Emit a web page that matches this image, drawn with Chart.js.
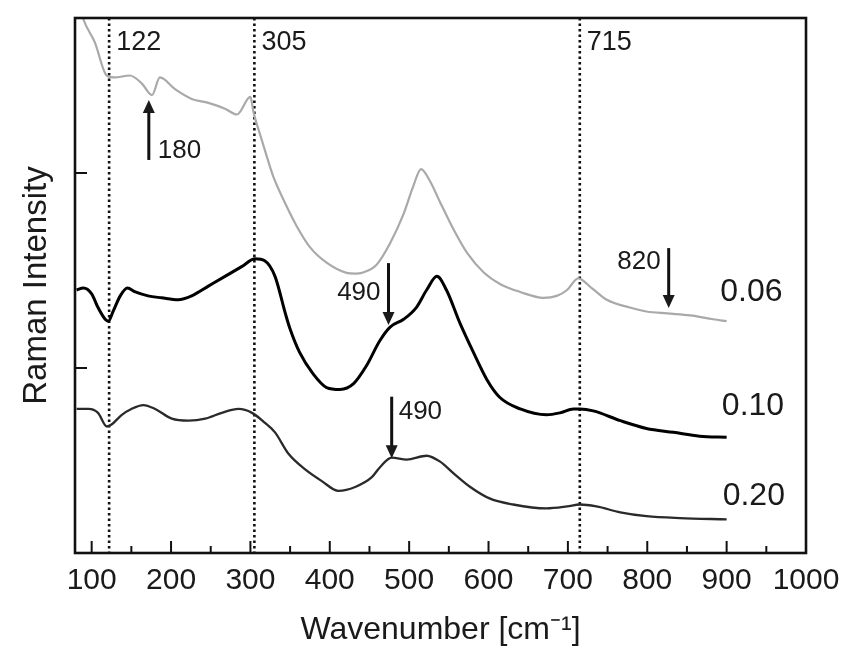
<!DOCTYPE html>
<html>
<head>
<meta charset="utf-8">
<title>Raman spectra</title>
<script src="https://cdn.jsdelivr.net/npm/chart.js@4.4.1/dist/chart.umd.min.js"></script>
<style>
  html, body { margin: 0; padding: 0; background: #fff; }
  #wrap { width: 842px; height: 655px; }
</style>
</head>
<body>
<div id="wrap"><canvas id="ramanChart" width="842" height="655"></canvas></div>
<script>
// x ticks / ranges
const xTicks = [100, 200, 300, 400, 500, 600, 700, 800, 900, 1000];
const yTicks = [1, 2];

// x = 0.06 (light gray)
const wn06 = [84, 89.5, 104, 119, 129, 148, 163, 176, 186, 205, 226, 247, 268, 283, 300, 304, 312, 321, 329, 342, 358, 375, 396, 421, 432, 442, 459, 476, 493, 505, 515, 526, 539, 556, 573, 594, 615, 640, 669, 686, 699, 713, 730, 749, 778, 799, 825, 854, 883, 900];
const int06 = [2.88, 2.79, 2.67, 2.50, 2.49, 2.50, 2.46, 2.40, 2.49, 2.43, 2.38, 2.36, 2.33, 2.30, 2.39, 2.31, 2.20, 2.08, 1.98, 1.86, 1.73, 1.62, 1.54, 1.488, 1.484, 1.49, 1.53, 1.64, 1.79, 1.93, 2.02, 1.96, 1.85, 1.71, 1.59, 1.49, 1.43, 1.39, 1.36, 1.37, 1.40, 1.46, 1.41, 1.35, 1.31, 1.29, 1.28, 1.27, 1.25, 1.24];

// x = 0.10 (black)
const wn10 = [81, 89.5, 100, 108, 117, 121, 127, 136, 145, 155, 171, 188, 209, 226, 247, 268, 289, 306, 318, 331, 344, 350, 362, 379, 396, 413, 430, 446, 463, 476, 493, 509, 522, 535, 547, 564, 581, 598, 614, 640, 673, 690, 707, 715, 732, 766, 799, 833, 866, 900];
const int10 = [1.40, 1.41, 1.38, 1.31, 1.25, 1.24, 1.29, 1.37, 1.41, 1.39, 1.37, 1.36, 1.35, 1.37, 1.42, 1.47, 1.52, 1.56, 1.55, 1.47, 1.28, 1.20, 1.08, 0.97, 0.90, 0.89, 0.92, 1.01, 1.14, 1.21, 1.25, 1.31, 1.40, 1.47, 1.40, 1.23, 1.08, 0.94, 0.85, 0.79, 0.76, 0.77, 0.79, 0.79, 0.78, 0.73, 0.69, 0.67, 0.65, 0.645];

// x = 0.20 (dark gray)
const wn20 = [81, 96, 108, 119, 125, 138, 150, 165, 180, 201, 222, 243, 264, 285, 302, 318, 331, 348, 369, 390, 411, 432, 453, 463, 478, 497, 522, 539, 556, 577, 602, 631, 673, 699, 715, 736, 766, 799, 841, 900];
const int20 = [0.79, 0.79, 0.77, 0.70, 0.71, 0.76, 0.79, 0.81, 0.79, 0.74, 0.73, 0.74, 0.77, 0.79, 0.77, 0.72, 0.67, 0.56, 0.48, 0.42, 0.37, 0.39, 0.44, 0.49, 0.54, 0.53, 0.55, 0.52, 0.46, 0.39, 0.33, 0.30, 0.28, 0.29, 0.30, 0.29, 0.26, 0.24, 0.23, 0.224];

// annotations
const markerLines = [122, 305, 715];
const arrows = [
  { x: 172, from: 2.067, to: 2.374, label: '180', lx: 9, ly: 2.113, align: 'left' },
  { x: 474, from: 1.538, to: 1.221, label: '490', lx: -8, ly: 1.385, align: 'right' },
  { x: 478, from: 0.853, to: 0.537, label: '490', lx: 7, ly: 0.774, align: 'left' },
  { x: 827, from: 1.615, to: 1.308, label: '820', lx: -8, ly: 1.544, align: 'right' }
];
const seriesLabels = [
  { text: '0.06', x: 892, y: 1.39 },
  { text: '0.10', x: 894, y: 0.805 },
  { text: '0.20', x: 895, y: 0.344 }
];

const FONT = '"Liberation Sans", Arial, Helvetica, sans-serif';

const toPoints = (xs, ys) => xs.map((x, i) => ({ x, y: ys[i] }));

const decor = {
  id: 'decor',
  beforeDatasetsDraw(chart) {
    const { ctx, chartArea: a, scales: { x } } = chart;
    ctx.save();
    ctx.strokeStyle = '#111';
    ctx.lineWidth = 2.6;
    ctx.setLineDash([2.5, 3]);
    markerLines.forEach((v) => {
      const px = x.getPixelForValue(v);
      ctx.beginPath();
      ctx.moveTo(px, a.top);
      ctx.lineTo(px, a.bottom);
      ctx.stroke();
    });
    ctx.restore();
  },
  afterDraw(chart) {
    const { ctx, chartArea: a, scales: { x, y } } = chart;
    ctx.save();
    ctx.fillStyle = '#1a1a1a';
    ctx.textBaseline = 'middle';

    // marker line labels
    ctx.font = '27px ' + FONT;
    ctx.textAlign = 'left';
    markerLines.forEach((v) => {
      ctx.fillText(String(v), x.getPixelForValue(v) + 7, y.getPixelForValue(2.667));
    });

    // arrows
    ctx.strokeStyle = '#111';
    ctx.lineWidth = 3;
    arrows.forEach((ar) => {
      const px = x.getPixelForValue(ar.x);
      const y0 = y.getPixelForValue(ar.from);
      const y1 = y.getPixelForValue(ar.to);
      const dir = y1 > y0 ? 1 : -1;
      ctx.beginPath();
      ctx.moveTo(px, y0);
      ctx.lineTo(px, y1 - dir * 10);
      ctx.stroke();
      ctx.beginPath();
      ctx.moveTo(px - 6, y1 - dir * 13);
      ctx.lineTo(px + 6, y1 - dir * 13);
      ctx.lineTo(px, y1);
      ctx.closePath();
      ctx.fill();
      ctx.textAlign = ar.align;
      ctx.font = '26px ' + FONT;
      ctx.fillText(ar.label, px + ar.lx, y.getPixelForValue(ar.ly));
    });

    // series labels
    ctx.font = '32px ' + FONT;
    ctx.textAlign = 'left';
    seriesLabels.forEach((s) => {
      ctx.fillText(s.text, x.getPixelForValue(s.x), y.getPixelForValue(s.y));
    });

    // inward ticks
    ctx.lineWidth = 2;
    ctx.setLineDash([]);
    const xt = x.ticks.map((t) => t.value);
    xt.forEach((v, i) => {
      const px = x.getPixelForValue(v);
      ctx.beginPath();
      ctx.moveTo(px, a.bottom);
      ctx.lineTo(px, a.bottom - 12);
      ctx.stroke();
      if (i < xt.length - 1) {
        const pm = x.getPixelForValue((v + xt[i + 1]) / 2);
        ctx.beginPath();
        ctx.moveTo(pm, a.bottom);
        ctx.lineTo(pm, a.bottom - 7);
        ctx.stroke();
      }
    });
    y.ticks.forEach((t) => {
      const py = y.getPixelForValue(t.value);
      ctx.beginPath();
      ctx.moveTo(a.left, py);
      ctx.lineTo(a.left + 12, py);
      ctx.stroke();
    });

    // frame
    ctx.lineWidth = 2.6;
    ctx.strokeRect(a.left, a.top, a.right - a.left, a.bottom - a.top);
    ctx.restore();
  }
};

const data = {
  datasets: [
    { label: '0.06', data: toPoints(wn06, int06), borderColor: '#a9a9a9', borderWidth: 2.2 },
    { label: '0.10', data: toPoints(wn10, int10), borderColor: '#000000', borderWidth: 3 },
    { label: '0.20', data: toPoints(wn20, int20), borderColor: '#2a2a2a', borderWidth: 2.3 }
  ]
};

const config = {
  type: 'line',
  data,
  options: {
    responsive: false,
    animation: false,
    layout: { padding: { top: 18, right: 36, left: 0, bottom: 0 } },
    elements: {
      point: { radius: 0 },
      line: { cubicInterpolationMode: 'monotone', fill: false }
    },
    plugins: {
      legend: { display: false },
      tooltip: { enabled: false }
    },
    scales: {
      x: {
        type: 'linear',
        min: 79,
        max: 1000,
        afterBuildTicks: (s) => { s.ticks = xTicks.map((v) => ({ value: v })); },
        afterFit: (s) => {
          s.height = 102;
          s.paddingLeft = 0;
          s.paddingRight = 0;
        },
        grid: { display: false, drawTicks: false },
        border: { display: false },
        ticks: {
          padding: 10,
          color: '#1a1a1a',
          font: { family: FONT, size: 30 },
          maxRotation: 0,
          autoSkip: false,
          callback: (v) => String(v)
        },
        title: {
          display: true,
          text: 'Wavenumber [cm⁻¹]',
          color: '#1a1a1a',
          font: { family: FONT, size: 32 },
          padding: { top: 0, bottom: 6 }
        }
      },
      y: {
        type: 'linear',
        min: 0.0513,
        max: 2.795,
        afterBuildTicks: (s) => { s.ticks = yTicks.map((v) => ({ value: v })); },
        afterFit: (s) => { s.width = 75; },
        grid: { display: false, drawTicks: false },
        border: { display: false },
        ticks: { display: false },
        title: {
          display: true,
          text: 'Raman Intensity',
          color: '#1a1a1a',
          font: { family: FONT, size: 33 },
          padding: { top: 17, bottom: 0 }
        }
      }
    }
  },
  plugins: [decor]
};

const ramanChart = new Chart(document.getElementById('ramanChart'), config);
</script>
</body>
</html>
